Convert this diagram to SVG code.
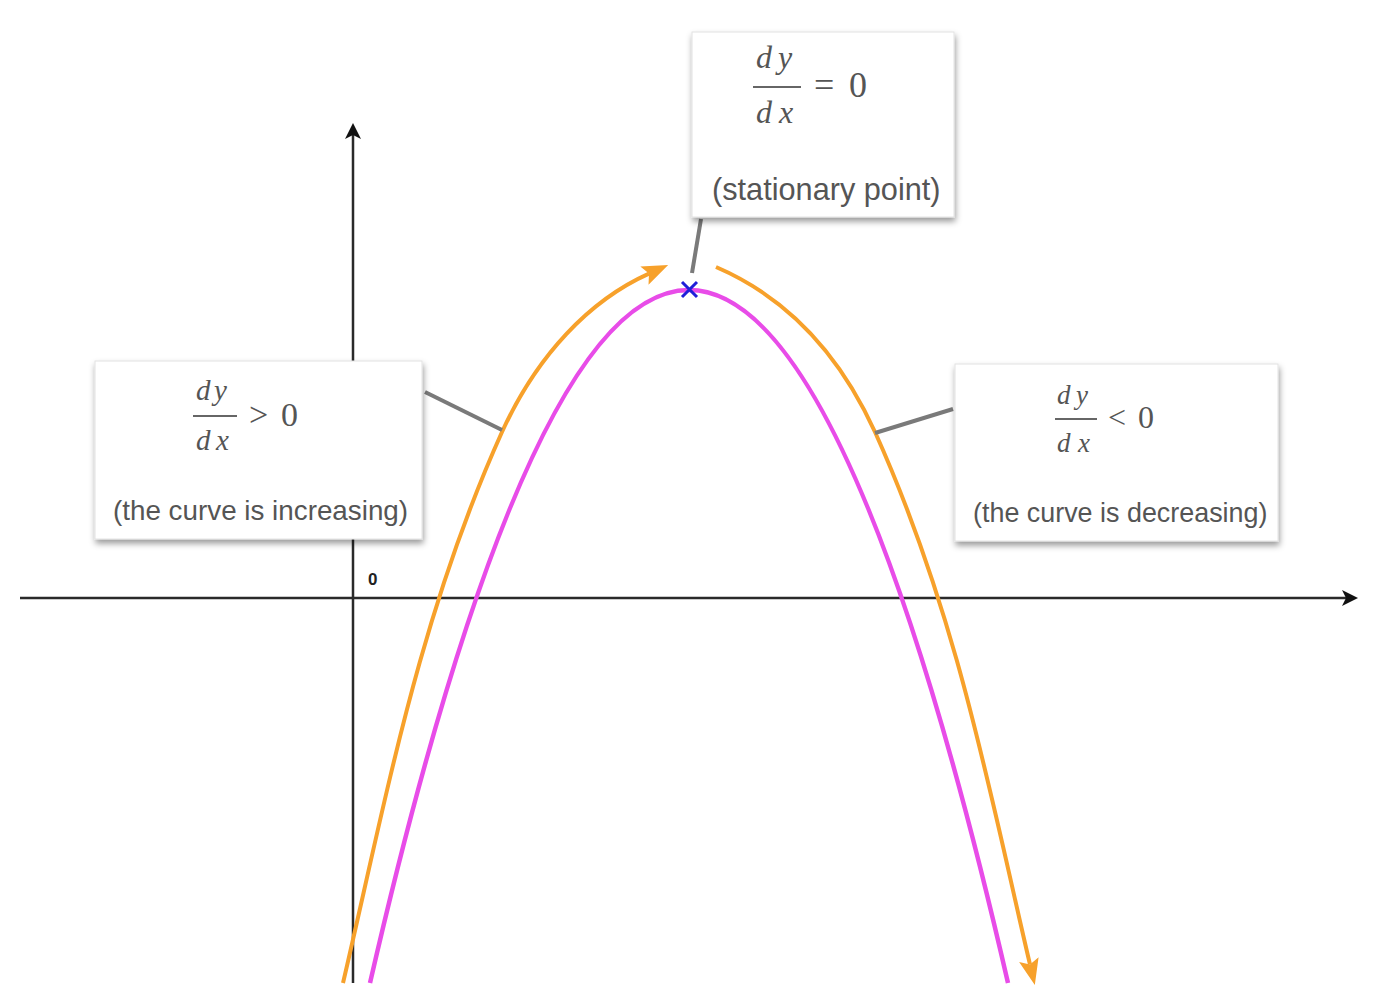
<svg xmlns="http://www.w3.org/2000/svg" width="1384" height="1006" viewBox="0 0 1384 1006">
<style>
.axis{stroke:#2a2a2a;stroke-width:2.5;fill:none}
.conn{stroke:#7a7a7a;stroke-width:4;fill:none}
.box{fill:#fff;stroke:#e2e2e2;stroke-width:1;filter:url(#sh)}
.mi{font-family:"Liberation Serif","Times New Roman",serif;font-style:italic;fill:#555}
.mr{font-family:"Liberation Serif","Times New Roman",serif;fill:#555}
.lbl{font-family:"Liberation Sans",Arial,sans-serif;fill:#555}
.bar{stroke:#666;stroke-width:2}
.orange{stroke:#f7a12b;stroke-width:4;fill:none}
</style>
<defs>
<filter id="sh" x="-10%" y="-10%" width="125%" height="135%">
<feDropShadow dx="1" dy="4" stdDeviation="3" flood-color="#000" flood-opacity="0.4"/>
</filter>
<marker id="karrow" markerUnits="userSpaceOnUse" viewBox="0 0 16 16" markerWidth="16" markerHeight="16" refX="4" refY="8" orient="auto">
<path d="M0,0 L16,8 L0,16 L4,8 z" fill="#111"/>
</marker>
<marker id="oarrow" markerUnits="userSpaceOnUse" viewBox="0 0 26 20" markerWidth="26" markerHeight="20" refX="5" refY="10" orient="auto">
<path d="M0,0 L26,10 L0,20 L5,10 z" fill="#f7a12b"/>
</marker>
</defs>
<rect width="1384" height="1006" fill="#fff"/>

<g id="axes">
<line class="axis" x1="20" y1="598" x2="1346" y2="598" marker-end="url(#karrow)"/>
<line class="axis" x1="353" y1="983" x2="353" y2="135" marker-end="url(#karrow)"/>
<text x="368" y="585" font-family="Liberation Sans, Arial, sans-serif" font-size="17" font-weight="bold" fill="#222">0</text>
</g>

<g id="curve">
<path d="M370,983 Q689,-403 1008,983" fill="none" stroke="#e84ce8" stroke-width="4.5"/>
</g>

<g id="direction-arrows">
<path class="orange" d="M343,983 C386,799 419,616 502,432 C537,355 590,300 649,273.6" marker-end="url(#oarrow)"/>
<path class="orange" d="M716,267 C788,298 840,355 875,432 C958,616 991,799 1030,964.5" marker-end="url(#oarrow)"/>
</g>

<g id="stationary-marker">
<path d="M682,282 L697,297 M697,282 L682,297" stroke="#1f1fd8" stroke-width="3" fill="none"/>
</g>

<g id="connectors">
<line class="conn" x1="701" y1="219" x2="692" y2="273"/>
<line class="conn" x1="425" y1="392" x2="502" y2="430"/>
<line class="conn" x1="953" y1="409" x2="875" y2="433"/>
</g>

<g id="box-stationary">
<rect class="box" x="692" y="32" width="262" height="185"/>
<text class="mi" x="756 778" y="68" font-size="32">dy</text>
<line class="bar" x1="753" y1="87" x2="801" y2="87"/>
<text class="mi" x="756 779" y="123" font-size="32">dx</text>
<text class="mr" x="814" y="97" font-size="36">=</text>
<text class="mr" x="849" y="97" font-size="36">0</text>
<text class="lbl" x="712" y="200" font-size="30.7">(stationary point)</text>
</g>

<g id="box-increasing">
<rect class="box" x="95" y="361" width="327" height="178"/>
<text class="mi" x="196 214" y="400" font-size="29">dy</text>
<line class="bar" x1="193" y1="416" x2="237" y2="416"/>
<text class="mi" x="196 216" y="450" font-size="29">dx</text>
<text class="mr" x="249" y="426" font-size="34">&gt;</text>
<text class="mr" x="281" y="426" font-size="34">0</text>
<text class="lbl" x="113" y="520" font-size="27.8">(the curve is increasing)</text>
</g>

<g id="box-decreasing">
<rect class="box" x="955" y="364" width="323" height="177"/>
<text class="mi" x="1057 1076" y="404" font-size="27">dy</text>
<line class="bar" x1="1055" y1="419" x2="1097" y2="419"/>
<text class="mi" x="1057 1078" y="452" font-size="27">dx</text>
<text class="mr" x="1108" y="428" font-size="32">&lt;</text>
<text class="mr" x="1138" y="428" font-size="32">0</text>
<text class="lbl" x="973" y="522" font-size="26.9">(the curve is decreasing)</text>
</g>
</svg>
